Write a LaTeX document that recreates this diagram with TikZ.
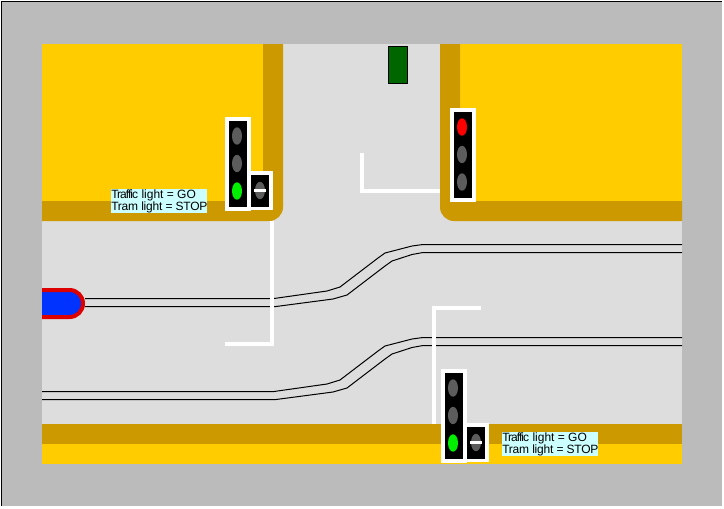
\documentclass[tikz,border=0pt]{standalone}
\usepackage{fontspec}
\setmainfont{Liberation Sans}
\definecolor{bggrey}{HTML}{BBBBBB}
\definecolor{roadgrey}{HTML}{DDDDDD}
\definecolor{yard}{HTML}{FFCC00}
\definecolor{kerb}{HTML}{CC9900}
\definecolor{lampoff}{HTML}{5C5C5C}
\definecolor{lampgreen}{HTML}{00F000}
\definecolor{lampred}{HTML}{FF0000}
\definecolor{labelbg}{HTML}{CCFFFF}
\definecolor{carfill}{HTML}{006600}
\definecolor{tramblue}{HTML}{0033FF}
\definecolor{tramred}{HTML}{DD0000}
\tikzset{
  px/.style={line width=0.75pt},
  rail/.style={draw=black,line width=0.75pt,line join=round},
  stopline/.style={draw=white,line width=3pt,line cap=butt,line join=miter},
  infolabel/.style={fill=labelbg,inner sep=0pt,anchor=north west,minimum width=72pt,minimum height=18pt,
    align=left,font=\fontsize{9}{9}\selectfont}
}
\newcommand{\infotext}{%
  \makebox[72pt][l]{{\addfontfeature{LetterSpace=-8}Traffic} light = GO}\\%
  \makebox[72pt][l]{{\addfontfeature{LetterSpace=-1.8}Tram light = STOP}}}
\newcommand{\biglight}[4]{%
  \begin{scope}[shift={(#1,#2)}]
    \fill[white] (0,0) rectangle (26,94);
    \fill[black] (4,4) rectangle (22,90);
    \fill[#3] (12,19) ellipse [x radius=5, y radius=8.7];
    \fill[lampoff] (12,46.5) ellipse [x radius=5, y radius=8.7];
    \fill[#4] (12,74) ellipse [x radius=5, y radius=8.7];
  \end{scope}}
\newcommand{\tramlight}[2]{%
  \begin{scope}[shift={(#1,#2)}]
    \fill[white] (22,54) rectangle (48,93);
    \fill[black] (26,58) rectangle (44,90);
    \fill[lampoff] (35,73.5) ellipse [x radius=5, y radius=8.7];
    \fill[white] (29,72) rectangle (41,75);
  \end{scope}}
\begin{document}
\begin{tikzpicture}[x=0.75pt,y=-0.75pt]
\useasboundingbox (0,0) rectangle (724,508);
% surround
\fill[bggrey] (1,1) rectangle (722,506);
\draw[px] (1.5,506) -- (1.5,1.5) -- (722,1.5);
% ground
\fill[yard] (42,44) rectangle (682,464);
\fill[roadgrey] (42,221) rectangle (682,424);
\fill[roadgrey] (283,44) rectangle (440,221);
\fill[roadgrey] (260,195) rectangle (465,225);
% kerbs
\fill[kerb] (42,201) -- (263,201) -- (263,44) -- (283,44) [rounded corners=10.5pt] -- (283,221) [sharp corners] -- (42,221) -- cycle;
\fill[kerb] (682,201) -- (460,201) -- (460,44) -- (440,44) [rounded corners=10.5pt] -- (440,221) [sharp corners] -- (682,221) -- cycle;
\fill[kerb] (42,424) rectangle (682,444);
% tracks, upper pair
\draw[rail] (85,298.5) -- (274,298.5) -- (327,291) -- (340,287) -- (378,258) -- (385,253) -- (412,246) -- (423,244.5) -- (682,244.5);
\draw[rail] (85,306.5) -- (276,306.5) -- (333,299) -- (347,295) -- (385,266) -- (392,261) -- (412,254.5) -- (423,252.5) -- (682,252.5);
% tracks, lower pair
\draw[rail] (42,391.5) -- (274,391.5) -- (327,384) -- (340,380) -- (378,351) -- (385,346) -- (412,339) -- (423,337.5) -- (682,337.5);
\draw[rail] (42,399.5) -- (276,399.5) -- (333,392) -- (347,388) -- (385,359) -- (392,354) -- (412,347.5) -- (423,345.5) -- (682,345.5);
% stop lines
\draw[stopline] (272,221) -- (272,344) -- (225,344);
\draw[stopline] (362,153) -- (362,191) -- (440,191);
\draw[stopline] (481,308) -- (434,308) -- (434,424);
% car
\node[draw=black,fill=carfill,px,inner sep=0pt,minimum width=14.25pt,minimum height=27.75pt,anchor=north west] (car) at (388,46) {};
% tram
\fill[tramblue] (42,290) -- (72,290) -- (82,295) -- (84,303) -- (82,311) -- (72,317) -- (42,317) -- cycle;
\draw[draw=tramred,line width=3pt,rounded corners=10.1pt] (42,290) -- (83,290) -- (83,317) -- (42,317);
% signals
\tramlight{225}{117}
\biglight{225}{117}{lampoff}{lampgreen}
\biglight{450}{108}{lampred}{lampoff}
\tramlight{441}{369}
\biglight{441}{369}{lampoff}{lampgreen}
% labels
\node[infolabel] (labelA) at (111,189) {\infotext};
\node[infolabel] (labelB) at (502,432) {\infotext};
\end{tikzpicture}
\end{document}
